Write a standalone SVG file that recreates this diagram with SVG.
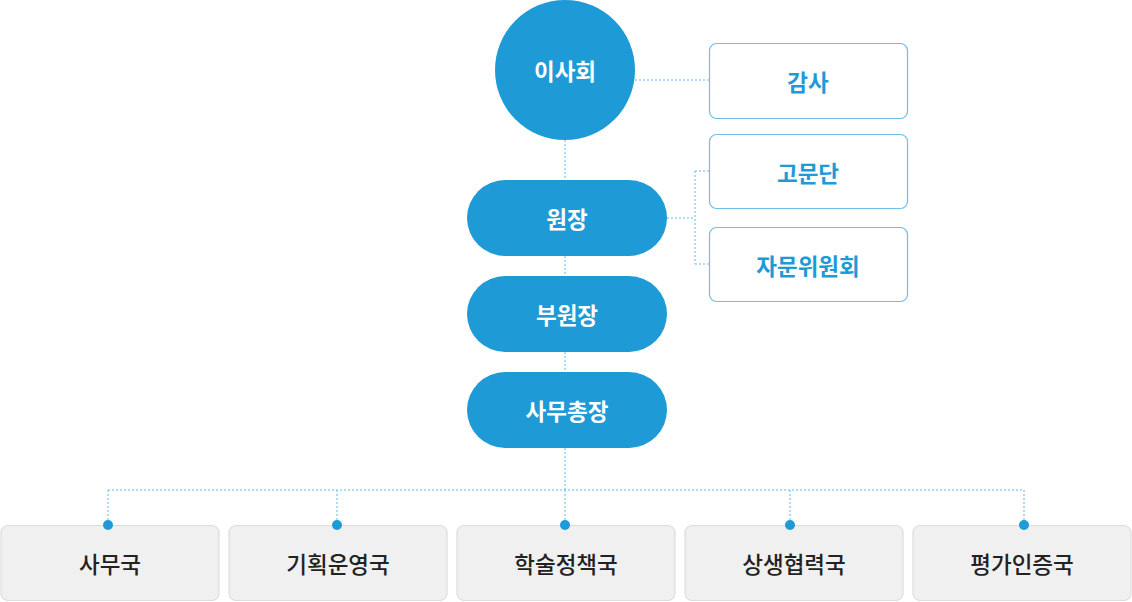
<svg xmlns="http://www.w3.org/2000/svg" width="1132" height="602" viewBox="0 0 1132 602">
<style>
text{font-family:"Noto Sans CJK KR","Noto Sans",sans-serif;font-size:22.5px;text-anchor:middle;dominant-baseline:central}
.main{fill:#1e9ad6}
.wt{fill:#fff;font-weight:700}
.side{fill:#fff;stroke:#6cbfe9;stroke-width:1.2}
.st{fill:#1e9ad6;font-weight:700}
.dept{fill:#f0f0f0;stroke:#dddddd;stroke-width:1.2}
.dt{fill:#222;font-weight:500}
.ln{fill:none;stroke:#94d0f4;stroke-width:1.5;stroke-dasharray:2 2}
.ln2{fill:none;stroke:#5db6ee;stroke-width:1.2;stroke-dasharray:2 2}
.dot{fill:#1e9ad6}
</style>
<g id="board"><circle class="main" cx="565" cy="70" r="70"/><text class="wt" x="565" y="70">이사회</text></g>
<g id="audit"><rect class="side" x="709.5" y="43.5" width="198" height="75" rx="7"/><text class="st" x="808" y="81">감사</text></g>
<g id="advisors"><rect class="side" x="709.5" y="134.5" width="198" height="74" rx="7"/><text class="st" x="808" y="172">고문단</text></g>
<g id="committee"><rect class="side" x="709.5" y="227.5" width="198" height="74" rx="7"/><text class="st" x="808" y="265">자문위원회</text></g>
<g id="president"><rect class="main" x="467" y="180" width="200" height="76" rx="38"/><text class="wt" x="567" y="218">원장</text></g>
<g id="vicepresident"><rect class="main" x="467" y="276" width="200" height="76" rx="38"/><text class="wt" x="567" y="314">부원장</text></g>
<g id="secretarygeneral"><rect class="main" x="467" y="372" width="200" height="76" rx="38"/><text class="wt" x="567" y="410">사무총장</text></g>
<g id="dept1"><rect class="dept" x="1" y="525.5" width="218" height="75" rx="7"/><text class="dt" x="110" y="563">사무국</text></g>
<g id="dept2"><rect class="dept" x="229" y="525.5" width="218" height="75" rx="7"/><text class="dt" x="338" y="563">기획운영국</text></g>
<g id="dept3"><rect class="dept" x="457" y="525.5" width="218" height="75" rx="7"/><text class="dt" x="566" y="563">학술정책국</text></g>
<g id="dept4"><rect class="dept" x="685" y="525.5" width="218" height="75" rx="7"/><text class="dt" x="794" y="563">상생협력국</text></g>
<g id="dept5"><rect class="dept" x="913" y="525.5" width="218" height="75" rx="7"/><text class="dt" x="1022" y="563">평가인증국</text></g>
<g id="connectors">
<path class="ln" d="M565 140V180M565 256V276M565 352V372M565 448V490"/>
<path class="ln" d="M635 80H709"/>
<path class="ln" d="M667 218H695M695 171V264M695 171H709M695 264H709"/>
<path class="ln2" d="M108 490H1024"/>
<path class="ln" d="M108 490V525M337 490V525M565 490V525M790 490V525M1024 490V525"/>
<circle class="dot" cx="108" cy="525" r="5"/>
<circle class="dot" cx="337" cy="525" r="5"/>
<circle class="dot" cx="565" cy="525" r="5"/>
<circle class="dot" cx="790" cy="525" r="5"/>
<circle class="dot" cx="1024" cy="525" r="5"/>
</g>
</svg>
